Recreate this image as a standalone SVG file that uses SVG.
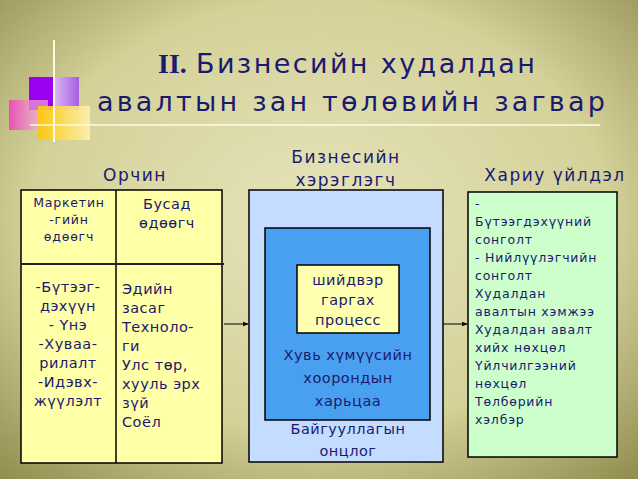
<svg xmlns="http://www.w3.org/2000/svg" width="638" height="479" viewBox="0 0 638 479">
<defs>
<radialGradient id="bg" cx="0.5" cy="0.45" r="0.75">
<stop offset="0" stop-color="#e6e4ba"/><stop offset="0.6" stop-color="#d4d199"/><stop offset="1" stop-color="#8f8b4e"/>
</radialGradient>
<linearGradient id="pur" x1="0" x2="1"><stop offset="0" stop-color="#d9b8f5"/><stop offset="1" stop-color="#a55ee0"/></linearGradient>
<linearGradient id="pink" x1="0" x2="1"><stop offset="0" stop-color="#e84fb4"/><stop offset="1" stop-color="#f8c0e0" stop-opacity="0.6"/></linearGradient>
<linearGradient id="yel" x1="0" x2="1"><stop offset="0" stop-color="#ffc800"/><stop offset="1" stop-color="#fff0b0"/></linearGradient>
<marker id="ah" viewBox="0 0 10 10" refX="9" refY="5" markerWidth="6" markerHeight="6" orient="auto"><path d="M0,1 L10,5 L0,9 z" fill="#000"/></marker>
<style>
text{font-family:"DejaVu Sans","Liberation Sans",sans-serif;fill:#1a1a6e}
.h{font-size:17px;letter-spacing:1.5px}
.t{font-size:14.5px;letter-spacing:0.5px}
.s{font-size:12.5px;letter-spacing:0.8px}
.box{stroke:#000;stroke-width:1.5}
</style>
</defs>
<rect width="638" height="479" fill="url(#bg)"/>
<g id="deco">
<rect x="29" y="77" width="25" height="33" fill="#9b00f0"/>
<rect x="54" y="77" width="25" height="33" fill="url(#pur)"/>
<rect x="9" y="100" width="39" height="30" fill="url(#pink)"/>
<rect x="38" y="106" width="52" height="34" fill="url(#yel)" opacity="0.9"/>
<line x1="54" y1="40" x2="54" y2="142" stroke="#fffbe0" stroke-width="2"/>
<line x1="30" y1="125" x2="600" y2="125" stroke="#fffbe0" stroke-width="1.5"/>
</g>
<g id="title">
<text x="158" y="73" style="font-family:'Liberation Serif',serif;font-weight:bold;font-size:28px;fill:#1a1a6e">II.</text>
<text x="196" y="73" style="font-size:27px;letter-spacing:2.4px">Бизнесийн худалдан</text>
<text x="97" y="111" style="font-size:27px;letter-spacing:3.2px">авалтын зан төлөвийн загвар</text>
</g>
<g id="headers">
<text class="h" x="135" y="181" text-anchor="middle">Орчин</text>
<text class="h" x="346" y="163" text-anchor="middle">Бизнесийн</text>
<text class="h" x="346" y="186" text-anchor="middle">хэрэглэгч</text>
<text class="h" x="555" y="181" text-anchor="middle">Хариу үйлдэл</text>
</g>
<g id="env">
<rect class="box" x="21" y="190" width="201" height="273" fill="#ffffa8"/>
<line x1="116" y1="190" x2="116" y2="463" stroke="#000" stroke-width="1.5"/>
<line x1="21" y1="264" x2="224" y2="264" stroke="#222" stroke-width="2"/>
<text class="s" text-anchor="middle"><tspan x="69" y="207">Маркетин</tspan><tspan x="69" y="224">-гийн</tspan><tspan x="69" y="241">өдөөгч</tspan></text>
<text class="t" text-anchor="middle"><tspan x="167" y="209">Бусад</tspan><tspan x="167" y="228">өдөөгч</tspan></text>
<text class="t" text-anchor="middle"><tspan x="68" y="292">-Бүтээг-</tspan><tspan x="68" y="311">дэхүүн</tspan><tspan x="68" y="330">- Үнэ</tspan><tspan x="68" y="349">-Хуваа-</tspan><tspan x="68" y="368">рилалт</tspan><tspan x="68" y="387">-Идэвх-</tspan><tspan x="68" y="406">жүүлэлт</tspan></text>
<text class="t"><tspan x="122" y="294">Эдийн</tspan><tspan x="122" y="313">засаг</tspan><tspan x="122" y="332">Техноло-</tspan><tspan x="122" y="351">ги</tspan><tspan x="122" y="370">Улс төр,</tspan><tspan x="122" y="389">хууль эрх</tspan><tspan x="122" y="408">зүй</tspan><tspan x="122" y="427">Соёл</tspan></text>
</g>
<g id="consumer">
<rect class="box" x="249" y="190" width="194" height="272" fill="#c4dcff"/>
<rect class="box" x="265" y="228" width="165" height="192" fill="#4aa0f0"/>
<rect class="box" x="297" y="265" width="102" height="68" fill="#ffffb0"/>
<text class="t" text-anchor="middle"><tspan x="348" y="285">шийдвэр</tspan><tspan x="348" y="305">гаргах</tspan><tspan x="348" y="325">процесс</tspan></text>
<text class="t" text-anchor="middle"><tspan x="348" y="360">Хувь хүмүүсийн</tspan><tspan x="348" y="383">хоорондын</tspan><tspan x="348" y="406">харьцаа</tspan></text>
<text class="t" text-anchor="middle"><tspan x="348" y="434">Байгууллагын</tspan><tspan x="348" y="456">онцлог</tspan></text>
</g>
<g id="response">
<rect class="box" x="468" y="192" width="149" height="265" fill="#ccffcc"/>
<text class="s"><tspan x="475" y="208">-</tspan><tspan x="475" y="226">Бүтээгдэхүүний</tspan><tspan x="475" y="244">сонголт</tspan><tspan x="475" y="262">- Нийлүүлэгчийн</tspan><tspan x="475" y="280">сонголт</tspan><tspan x="475" y="298">Худалдан</tspan><tspan x="475" y="316">авалтын хэмжээ</tspan><tspan x="475" y="334">Худалдан авалт</tspan><tspan x="475" y="352">хийх нөхцөл</tspan><tspan x="475" y="370">Үйлчилгээний</tspan><tspan x="475" y="388">нөхцөл</tspan><tspan x="475" y="406">Төлбөрийн</tspan><tspan x="475" y="424">хэлбэр</tspan></text>
</g>
<g id="connectors" stroke="#000" stroke-width="1">
<line x1="224" y1="324" x2="248" y2="324" marker-end="url(#ah)"/>
<line x1="443" y1="324" x2="467" y2="324" marker-end="url(#ah)"/>
</g>
</svg>
